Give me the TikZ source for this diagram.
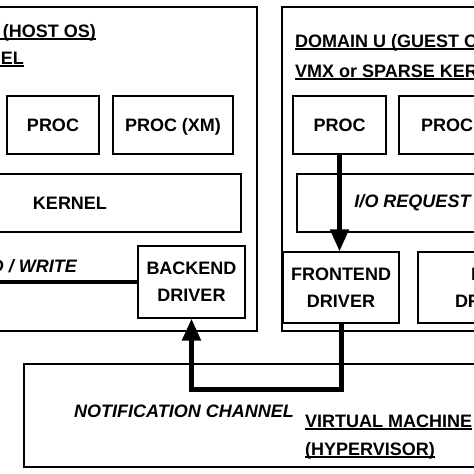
\documentclass[tikz,border=0pt]{standalone}
\usepackage{fontspec}
\setmainfont{Liberation Sans}
\usetikzlibrary{arrows.meta}
\begin{document}
\begin{tikzpicture}[x=1pt,y=-1pt,
  box/.style={draw,line width=1.2pt,inner sep=0pt,anchor=center,align=center,
    font=\fontsize{18}{27}\selectfont\bfseries},
  lbl/.style={inner sep=0pt,font=\fontsize{18}{27}\selectfont\bfseries},
  ilbl/.style={inner sep=0pt,font=\fontsize{18}{27}\selectfont\bfseries\itshape},
  ul/.style={line width=1.3pt},
  bigarrow/.style={line width=5pt,-{Triangle[width=18pt,length=22pt]}},
  reqarrow/.style={line width=4.5pt,-{Triangle[width=18pt,length=22pt]}},
  rwline/.style={line width=4pt}]
\useasboundingbox (0,0) rectangle (474,474);
\clip (0,0) rectangle (474,474);
\fill[white] (0,0) rectangle (474,474);

% Domain 0
\node[box,minimum width=437pt,minimum height=324pt] (dom0) at (38.5,169) {};
\node[lbl,anchor=base east] (dom0t) at (96,37) {DOMAIN 0 (HOST OS)};
\draw[ul] ([yshift=-2pt]dom0t.base west) -- ([yshift=-2pt]dom0t.base east);
\node[lbl,anchor=base east] (dom0k) at (24,64) {KERNEL};
\draw[ul] ([yshift=-2pt]dom0k.base west) -- ([yshift=-2pt]dom0k.base east);
\node[box,minimum width=92pt,minimum height=58pt] (proc1) at (53,125) {PROC};
\node[box,minimum width=120pt,minimum height=58pt,text height=13pt,text depth=0pt] (procxm) at (173,125) {PROC (XM)};
\node[box,minimum width=342pt,minimum height=58pt] (kern0) at (70,203) {KERNEL};
\node[box,minimum width=107pt,minimum height=72pt] (backend) at (191.5,282) {BACKEND\\DRIVER};
\node[ilbl,anchor=base east] (rw) at (77,272) {READ / WRITE};
\coordinate (rwend) at (-60,282);
\draw[rwline] (backend.west) -- (rwend);

% Domain U
\node[box,minimum width=418pt,minimum height=324pt] (domu) at (491,169) {};
\node[lbl,anchor=base west] (domut) at (295,47) {DOMAIN U (GUEST OS)};
\draw[ul] ([yshift=-2pt]domut.base west) -- ([yshift=-2pt]domut.base east);
\node[lbl,anchor=base west] (domuk) at (295,77) {VMX or SPARSE KERNEL};
\draw[ul] ([yshift=-2pt]domuk.base west) -- ([yshift=-2pt]domuk.base east);
\node[box,minimum width=93pt,minimum height=58pt] (procu1) at (339.5,125) {PROC};
\node[box,minimum width=96pt,minimum height=58pt] (procu2) at (447,125) {PROC};
\node[box,minimum width=231pt,minimum height=58pt,font=\fontsize{18}{27}\selectfont\bfseries\itshape] (ioreq) at (412.5,203) {I/O REQUEST};
\node[box,minimum width=116pt,minimum height=71pt] (frontend) at (341,287.5) {FRONTEND\\DRIVER};
\node[box,minimum width=142pt,minimum height=71pt] (rdrv) at (489,287.5) {NET\\DRIVER};
\draw[reqarrow] (procu1.south) -- (procu1.south |- frontend.north);

% Hypervisor
\node[box,minimum width=676pt,minimum height=103pt] (hyper) at (362,415.5) {};
\node[ilbl,anchor=base west] (notif) at (74,417) {NOTIFICATION CHANNEL};
\node[lbl,anchor=base west] (vmm) at (305,427) {VIRTUAL MACHINE};
\draw[ul] ([yshift=-2pt]vmm.base west) -- ([yshift=-2pt]vmm.base east);
\node[lbl,anchor=base west] (hyp) at (305,455) {(HYPERVISOR)};
\draw[ul] ([yshift=-2pt]hyp.base west) -- ([yshift=-2pt]hyp.base east);
\coordinate (nc) at (341,389);
\draw[bigarrow] (frontend.south) -- (nc) -| (backend.south);
\end{tikzpicture}
\end{document}
